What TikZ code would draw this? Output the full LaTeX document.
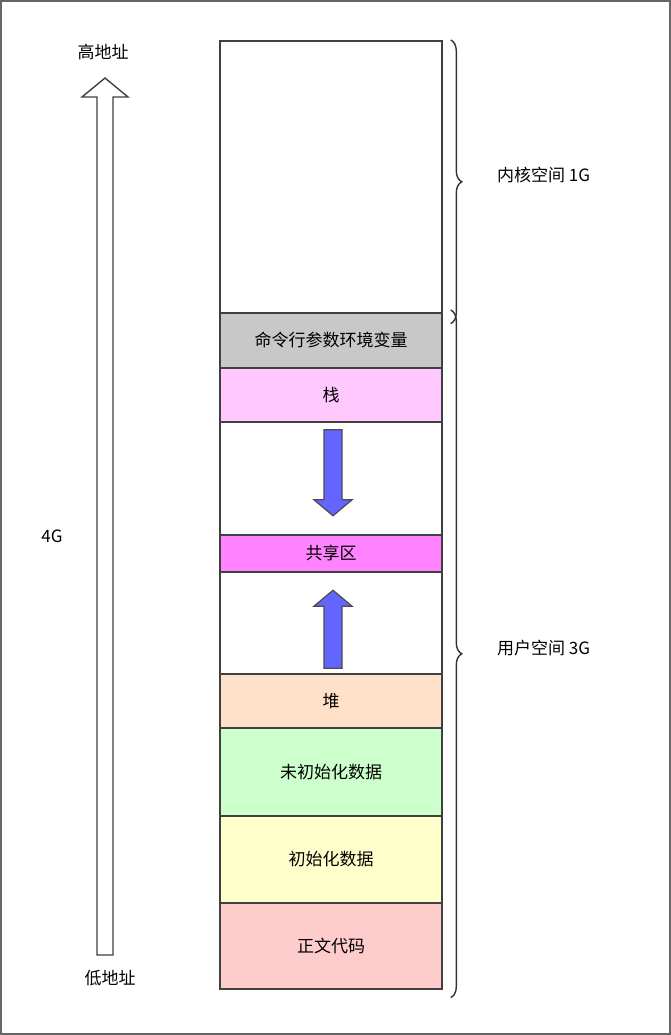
\documentclass[tikz,border=0pt]{standalone}
\usepackage{fontspec}
\setmainfont{Noto Sans CJK SC}
\usetikzlibrary{positioning, decorations.pathreplacing, shapes.arrows}
\definecolor{cmdgray}{RGB}{200,200,200}
\definecolor{stackpink}{RGB}{255,200,255}
\definecolor{sharepink}{RGB}{255,130,255}
\definecolor{heappeach}{RGB}{255,224,200}
\definecolor{bssgreen}{RGB}{204,255,204}
\definecolor{datayellow}{RGB}{255,255,204}
\definecolor{textred}{RGB}{255,204,204}
\definecolor{arrowblue}{RGB}{100,100,255}

\begin{document}
\begin{tikzpicture}[x=1pt,y=-1pt,
  seg/.style={draw=black!75, line width=1.6pt, minimum width=222pt, inner sep=0pt, font=\fontsize{17}{17}\selectfont, anchor=north},
  lbl/.style={font=\fontsize{17}{17}\selectfont, inner sep=0pt},
  growarrow/.style={single arrow, draw=black!70, fill=arrowblue, line width=1.2pt, minimum width=38pt, single arrow head extend=4pt, single arrow tip angle=100, minimum height=80pt, inner sep=3pt},
  brc/.style={decorate, decoration={brace, amplitude=11pt}, line width=1.4pt, draw=black!80}]
  \useasboundingbox (0,0) rectangle (671,1035);
  \draw[black!60, line width=1.5pt] (1,1) rectangle (670,1034);
  % memory layout
  \node[seg, minimum height=272pt]                  (kern)  at (331,40)  {};
  \node[seg, minimum height=55pt, fill=cmdgray]     (cmd)   at (331,312) {命令行参数环境变量};
  \node[seg, minimum height=54pt, fill=stackpink]   (stack) at (331,367) {栈};
  \node[seg, minimum height=113pt]                  (gap1)  at (331,421) {};
  \node[seg, minimum height=37pt, fill=sharepink]   (share) at (331,534) {共享区};
  \node[seg, minimum height=102pt]                  (gap2)  at (331,571) {};
  \node[seg, minimum height=54pt, fill=heappeach]   (heap)  at (331,673) {堆};
  \node[seg, minimum height=88pt, fill=bssgreen]    (bss)   at (331,727) {未初始化数据};
  \node[seg, minimum height=87pt, fill=datayellow]  (data)  at (331,815) {初始化数据};
  \node[seg, minimum height=86pt, fill=textred]     (text)  at (331,902) {正文代码};
  % growth arrows
  \node[growarrow, shape border rotate=270, minimum height=86pt] (down) at (333,469) {};
  \node[growarrow, shape border rotate=90, minimum height=78pt]  (up)   at (333,633) {};
  % braces
  \draw[brc] ([xshift=8pt]kern.north east) -- ([xshift=8pt,yshift=-10pt]kern.south east) coordinate[midway,xshift=14pt] (kb);
  \draw[brc] ([xshift=8pt,yshift=2pt]cmd.north east) -- ([xshift=8pt,yshift=-8pt]text.south east) coordinate[midway,xshift=14pt] (ub);
  \node[lbl, anchor=west] (kname) at (497,175) {内核空间 1G};
  \node[lbl, anchor=west] (uname) at (497,648) {用户空间 3G};
  % address arrow
  \draw[black!75, line width=1.4pt, fill=white] (97,955) -- (97,97) -- (82,97) -- (105,78) -- (128,97) -- (113,97) -- (113,955) -- cycle;
  \node[lbl] (high) at (103,52)  {高地址};
  \node[lbl] (low)  at (110,978) {低地址};
  \node[lbl] (size) at (52,536)  {4G};
\end{tikzpicture}
\end{document}
